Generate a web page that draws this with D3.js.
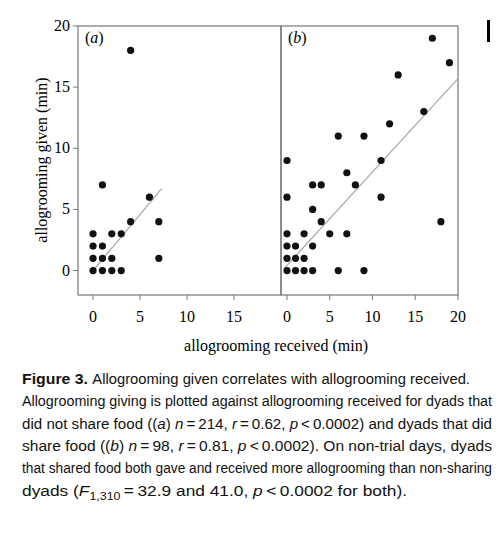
<!DOCTYPE html><html><head><script src="https://cdn.jsdelivr.net/npm/d3@7"></script>
<style>body{margin:0;background:#fff}</style></head><body><script>
const aX=[4,1,6,4,7,0,2,3,0,1,0,1,2,7,0,1,2,3];
const aY=[18,7,6,4,4,3,3,3,2,2,1,1,1,1,0,0,0,0];
const bX=[17,19,13,16,12,6,9,0,11,7,3,4,8,0,11,3,4,18,0,2,5,7,0,1,3,0,1,2,0,1,2,3,6,9];
const bY=[19,17,16,13,12,11,11,9,9,8,7,7,7,6,6,5,4,4,3,3,3,3,2,2,2,1,1,1,0,0,0,0,0,0];
const aFit=[[0,0],[7.3,6.7]], bFit=[[-0.3,0.2],[20,15.7]];
const xTicks=[0,5,10,15,20], yTicks=[0,5,10,15,20];
const svg=d3.select("body").append("svg").attr("width",500).attr("height",534);
const y=d3.scaleLinear().domain([-2,20]).range([295,26]);
const xa=d3.scaleLinear().domain([-1.6,20]).range([78,281]);
const xb=d3.scaleLinear().domain([-0.7,20]).range([281,458]);
const g="#777";
function panel(x,X,Y,fit,lab,ticks){
  const [x0,x1]=x.range();
  svg.append("rect").attr("x",x0).attr("y",y(20)).attr("width",x1-x0).attr("height",y(-2)-y(20)).attr("fill","none").attr("stroke",g).attr("stroke-width",1.2);
  ticks.forEach(t=>{
    svg.append("line").attr("x1",x(t)).attr("x2",x(t)).attr("y1",y(-2)).attr("y2",y(-2)+5).attr("stroke",g);
    svg.append("text").attr("x",x(t)).attr("y",y(-2)+27).attr("text-anchor","middle").attr("font-family","Liberation Serif").attr("font-size",16).text(t);
  });
  svg.append("line").attr("x1",x(fit[0][0])).attr("y1",y(fit[0][1])).attr("x2",x(fit[1][0])).attr("y2",y(fit[1][1])).attr("stroke","#aaa").attr("stroke-width",1.3);
  X.forEach((v,i)=>svg.append("circle").attr("cx",x(v)).attr("cy",y(Y[i])).attr("r",3.6).attr("fill","#111"));
  const t=svg.append("text").attr("x",x0+7).attr("y",y(20)+17).attr("font-family","Liberation Serif").attr("font-size",16);
  t.append("tspan").text("(");t.append("tspan").attr("font-style","italic").text(lab);t.append("tspan").text(")");
}
panel(xa,aX,aY,aFit,"a",[0,5,10,15]);
panel(xb,bX,bY,bFit,"b",[0,5,10,15,20]);
yTicks.forEach(t=>{
  svg.append("line").attr("x1",73).attr("x2",78).attr("y1",y(t)).attr("y2",y(t)).attr("stroke",g);
  svg.append("text").attr("x",70).attr("y",y(t)+5).attr("text-anchor","end").attr("font-family","Liberation Serif").attr("font-size",16).text(t);
});
svg.append("text").attr("transform","translate(47,160) rotate(-90)").attr("text-anchor","middle").attr("font-family","Liberation Serif").attr("font-size",16).text("allogrooming given (min)");
svg.append("text").attr("x",276).attr("y",351).attr("text-anchor","middle").attr("font-family","Liberation Serif").attr("font-size",16).text("allogrooming received (min)");
svg.append("rect").attr("x",487).attr("y",20).attr("width",3).attr("height",22).attr("fill","#000");
const lines=[
 [["b","Figure 3. "],["","Allogrooming given correlates with allogrooming received."]],
 [["","Allogrooming giving is plotted against allogrooming received for dyads that"]],
 [["","did not share food (("],["i","a"],["",") "],["i","n"],["","\u2009=\u2009214, "],["i","r"],["","\u2009=\u20090.62, "],["i","p"],["","\u2009<\u20090.0002) and dyads that did"]],
 [["","share food (("],["i","b"],["",") "],["i","n"],["","\u2009=\u200998, "],["i","r"],["","\u2009=\u20090.81, "],["i","p"],["","\u2009<\u20090.0002). On non-trial days, dyads"]],
 [["","that shared food both gave and received more allogrooming than non-sharing"]],
 [["","dyads ("],["i","F"],["s","1,310"],["u","\u2009=\u200932.9 and 41.0, "],["i","p"],["","\u2009<\u20090.0002 for both)."]]
];
const lens=[448,470,470,470,470,385];
lines.forEach((L,i)=>{
  const t=svg.append("text").attr("x",22).attr("y",384+i*22.3).attr("font-family","Liberation Sans").attr("font-size",14).attr("fill","#111")
    .attr("textLength",lens[i]).attr("lengthAdjust","spacingAndGlyphs");
  L.forEach(([s,txt])=>{const sp=t.append("tspan").text(txt);
    if(s=="b") sp.attr("font-weight","bold").attr("font-size",15);
    if(s=="i") sp.attr("font-style","italic");
    if(s=="s") sp.attr("font-size",10).attr("dy",4);
    if(s=="u") sp.attr("dy",-4);
  });
});
</script></body></html>
